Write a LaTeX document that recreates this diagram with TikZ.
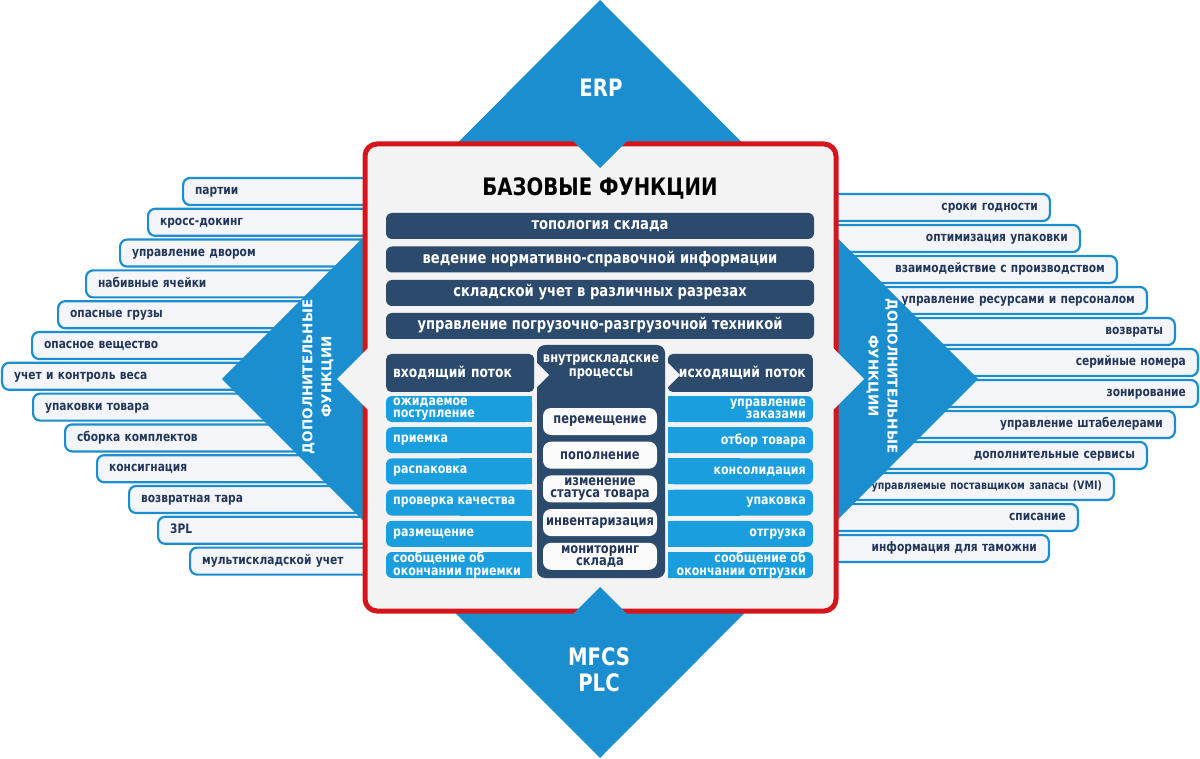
\documentclass[tikz,border=0pt]{standalone}
\usepackage{fontspec}
\setmainfont{DejaVu Sans}[FakeStretch=0.82]
\newfontfamily\sidefont{DejaVu Sans}
\usepackage{xcolor}
\usetikzlibrary{positioning}
\definecolor{dmblue}{RGB}{27,142,207}
\definecolor{rowblue}{RGB}{26,158,222}
\definecolor{barnavy}{RGB}{44,74,107}
\definecolor{txtnavy}{RGB}{35,55,90}
\definecolor{frred}{RGB}{214,20,28}
\definecolor{panelgray}{RGB}{243,243,243}
\definecolor{tabfill}{RGB}{243,245,248}

\begin{document}
\begin{tikzpicture}[x=1pt, y=-1pt,
    ltab/.style={draw=dmblue, line width=2.2pt, fill=tabfill, rounded corners=7pt,
                 minimum height=27pt, inner xsep=12pt, inner ysep=0pt,
                 text height=9.5pt, text depth=3pt, align=left, anchor=west,
                 text=txtnavy, font=\fontsize{13}{14}\selectfont\bfseries},
    rtab/.style={ltab, align=right, anchor=east},
    dmtext/.style={text=white, align=center, font=\fontsize{24}{26}\selectfont\bfseries},
    sidelbl/.style={text=white, align=center, font=\sidefont\fontsize{13.5}{19}\selectfont\bfseries},
    bar/.style={fill=barnavy, rounded corners=6pt, minimum width=428pt, minimum height=26pt,
                inner sep=0pt, text height=11pt, text depth=3.5pt,
                text=white, font=\fontsize{16}{16}\selectfont\bfseries},
    hdr/.style={fill=barnavy, rounded corners=5pt, minimum height=38pt, inner xsep=7pt,
                inner ysep=0pt, text=white, font=\fontsize{15}{15}\selectfont\bfseries},
    rowtxt/.style={text=white, inner sep=0pt, font=\fontsize{13.5}{12.3}\selectfont\bfseries},
    pill/.style={fill=white!97!gray, rounded corners=8pt, minimum width=114pt, minimum height=27pt,
                 inner sep=0pt, align=center, text=txtnavy,
                 font=\fontsize{14}{12.5}\selectfont\bfseries}
  ]
  \useasboundingbox[fill=white] (0,0) rectangle (1200,759);

  % tabs on the left
  \foreach \lx/\txt [count=\i] in {182/партии, 147/кросс-докинг, 119/управление двором,
      85/набивные ячейки, 57/опасные грузы, 31/опасное вещество, 1/учет и контроль веса,
      32/упаковки товара, 64/сборка комплектов, 96/консигнация, 128/возвратная тара,
      157/3PL, 189/мультискладской учет}{
    \pgfmathsetmacro{\tw}{390-\lx-24}
    \pgfmathsetmacro{\ty}{191.5+30.8*(\i-1)}
    \node[ltab, text width=\tw pt] (lt\i) at (\lx,\ty) {\txt};
  }
  % tabs on the right
  \foreach \rx/\txt [count=\i] in {1051/сроки годности, 1081/оптимизация упаковки,
      1118/взаимодействие с производством, 1148/управление ресурсами и персоналом,
      1176/возвраты, 1199/серийные номера, 1199/зонирование, 1176/управление штабелерами,
      1148/дополнительные сервисы,
      1115/{{\fontsize{11.6}{12}\selectfont управляемые поставщиком запасы (VMI)}},
      1079/списание, 1050/информация для таможни}{
    \pgfmathsetmacro{\tw}{\rx-810-24}
    \pgfmathsetmacro{\ty}{207.5+31*(\i-1)}
    \node[rtab, text width=\tw pt] (rt\i) at (\rx,\ty) {\txt};
  }

  % blue diamond
  \fill[dmblue] (600,0) -- (978,379) -- (600,758) -- (222,379) -- cycle;

  % red panel
  \draw[frred, line width=5pt, fill=panelgray, rounded corners=12pt] (365,144) rectangle (836,611);
  \fill[dmblue] (572,140) -- (628,140) -- (600,168) -- cycle;
  \fill[dmblue] (572,615) -- (628,615) -- (600,587) -- cycle;
  \fill[panelgray] (370,346) -- (370,412) -- (337,379) -- cycle;
  \fill[panelgray] (831,346) -- (831,412) -- (864,379) -- cycle;

  \node[dmtext] (erp) at (601,88) {ERP};
  \node[dmtext] (mfcs) at (599,670) {MFCS\\PLC};
  \node[sidelbl, rotate=90] (addl) at (318,377) {ДОПОЛНИТЕЛЬНЫЕ\\ФУНКЦИИ};
  \node[sidelbl, rotate=-90] (addr) at (882,376) {ДОПОЛНИТЕЛЬНЫЕ\\ФУНКЦИИ};

  % base functions
  \node[font=\fontsize{24}{24}\selectfont\bfseries] (base) at (600,188.5) {БАЗОВЫЕ ФУНКЦИИ};
  \node[bar] (b1) at (600,226) {топология склада};
  \node[bar] (b2) at (600,259.5) {ведение нормативно-справочной информации};
  \node[bar] (b3) at (600,293) {складской учет в различных разрезах};
  \node[bar] (b4) at (600,326) {управление погрузочно-разгрузочной техникой};

  % flows
  \node[hdr, anchor=west, text width=134pt, align=left] (inhd) at (386,373) {входящий поток};
  \node[hdr, anchor=east, text width=131pt, align=right] (outhd) at (813,373) {исходящий поток};
  \node[fill=barnavy, rounded corners=8pt, minimum width=128pt, minimum height=233pt,
        inner sep=0pt] (mid) at (601,461.5) {};
  \node[rowtxt, align=center, font=\fontsize{14}{13.5}\selectfont\bfseries] (midttl) at (601,367)
       {внутрискладские\\процессы};
  \fill[panelgray] (536,362) -- (549,375) -- (536,388) -- cycle;
  \fill[panelgray] (667,362) -- (680,375) -- (667,388) -- cycle;

  \foreach \txt [count=\i] in {{ожидаемое\\поступление}, приемка, распаковка,
      проверка качества, размещение, {сообщение об\\окончании приемки}}{
    \pgfmathsetmacro{\ty}{409+31.2*(\i-1)}
    \fill[rowblue, rounded corners=6pt] (386,\ty-13) rectangle (532,\ty+13);
    \fill[rowblue] (460,\ty-13) rectangle (532,\ty+13);
    \node[rowtxt, align=left, anchor=west] (in\i) at (393,\ty) {\txt};
  }
  \foreach \txt [count=\i] in {{управление\\заказами}, отбор товара, консолидация,
      упаковка, отгрузка, {сообщение об\\окончании отгрузки}}{
    \pgfmathsetmacro{\ty}{409+31.2*(\i-1)}
    \fill[rowblue, rounded corners=6pt] (668,\ty-13) rectangle (813,\ty+13);
    \fill[rowblue] (668,\ty-13) rectangle (740,\ty+13);
    \node[rowtxt, align=right, anchor=east] (out\i) at (806,\ty) {\txt};
  }
  \foreach \txt [count=\i] in {перемещение, пополнение, {изменение\\статуса товара},
      инвентаризация, {мониторинг\\склада}}{
    \pgfmathsetmacro{\ty}{421.5+33.7*(\i-1)}
    \node[pill] (p\i) at (600,\ty) {\txt};
  }
\end{tikzpicture}
\end{document}
